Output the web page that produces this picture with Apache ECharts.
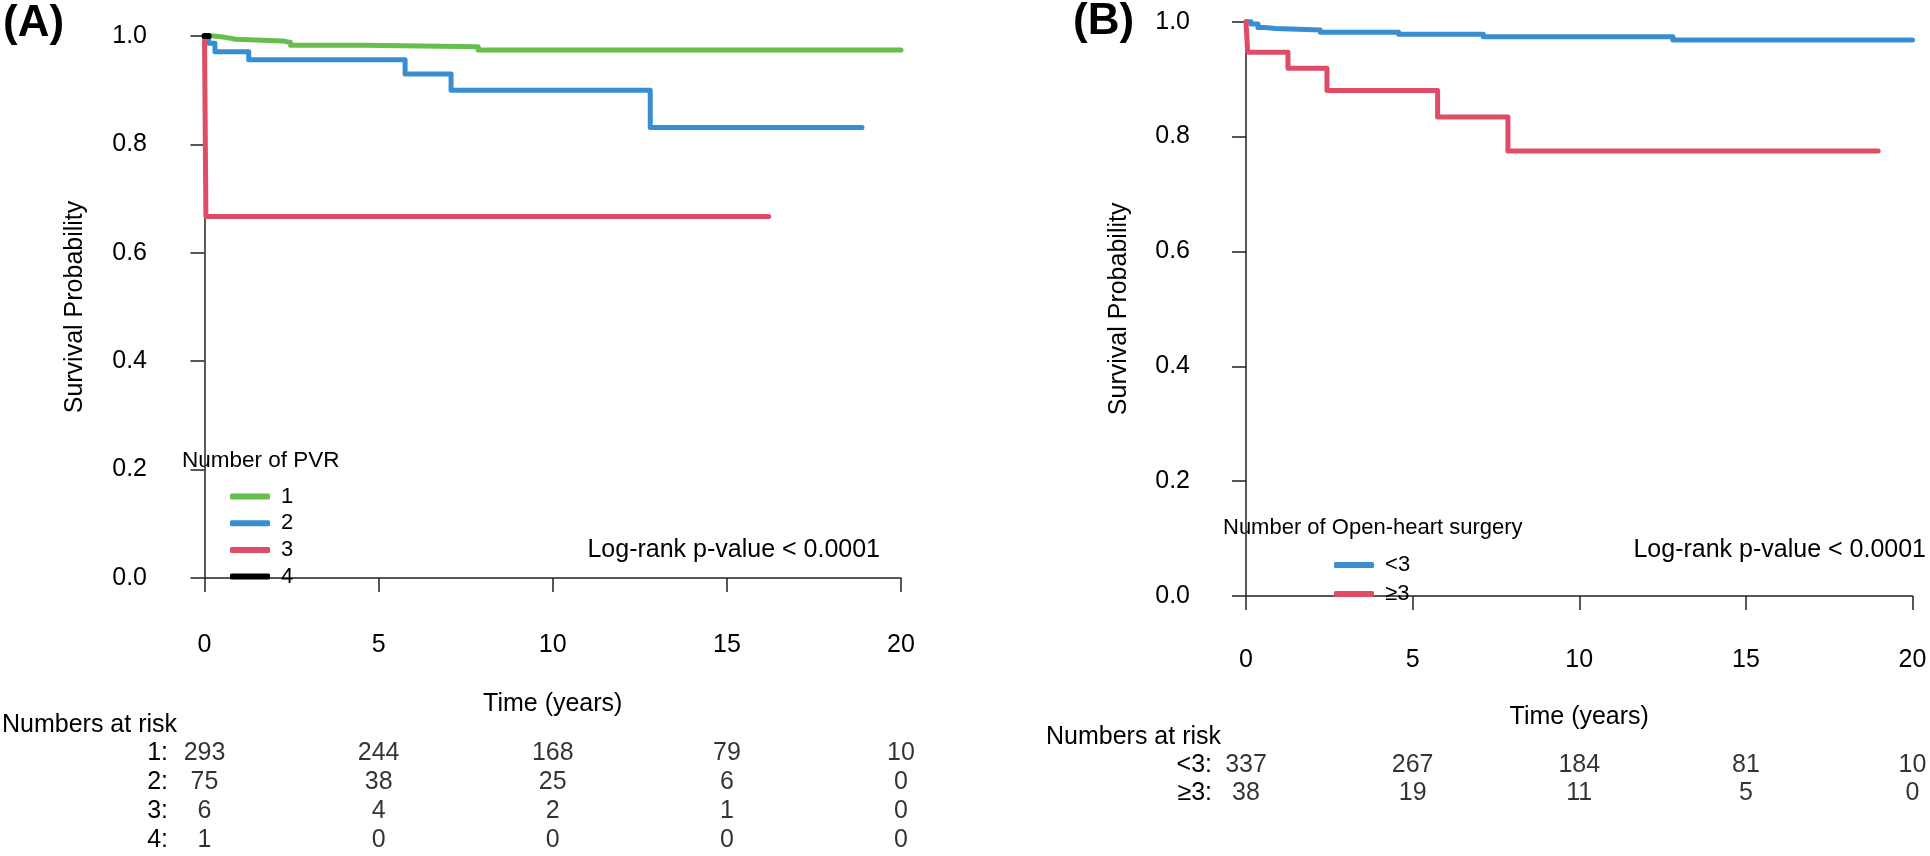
<!DOCTYPE html>
<html>
<head>
<meta charset="utf-8">
<script src="https://cdn.jsdelivr.net/npm/echarts@6/dist/echarts.min.js"></script>
<style>
  html, body { margin: 0; padding: 0; background: #fff; }
  #chart { width: 1930px; height: 856px; }
</style>
</head>
<body>
<div id="chart"></div>
<script>
// time axis ticks (years), shared by both panels and both risk tables
var timeTicks = [0, 5, 10, 15, 20];

// panel A: number of PVR, KM steps as [time, survival]
var pvr1 = [[0, 1], [0.25, 0.9975], [0.59, 0.994], [0.9, 0.991], [2.24, 0.988], [2.47, 0.983], [4.57, 0.98], [7.86, 0.974], [20, 0.974]];
var pvr2 = [[0, 1], [0.12, 0.9865], [0.3, 0.971], [1.27, 0.956], [5.76, 0.93], [7.08, 0.9], [12.8, 0.831], [18.88, 0.831]];
var pvr3 = [[0, 1], [0.02, 0.833], [0.04, 0.667], [16.2, 0.667]];
var pvr4 = [[0, 1], [0.12, 1]];

// panel B: number of open-heart surgery
var ohsLow = [[0, 1], [0.15, 0.996], [0.36, 0.99], [0.56, 0.988], [0.89, 0.9855], [2.23, 0.9815], [4.58, 0.978], [7.12, 0.974], [12.81, 0.968], [20, 0.968]];
var ohsHigh = [[0, 1], [0.05, 0.947], [1.26, 0.919], [2.43, 0.88], [5.75, 0.834], [7.86, 0.775], [18.97, 0.775]];

// numbers at risk
var riskRowsA = ['1:', '2:', '3:', '4:'];
var riskA = [
  [293, 244, 168, 79, 10],
  [75, 38, 25, 6, 0],
  [6, 4, 2, 1, 0],
  [1, 0, 0, 0, 0]
];
var riskRowsB = ['<3:', '\u22653:'];
var riskB = [
  [337, 267, 184, 81, 10],
  [38, 19, 11, 5, 0]
];

var FONT = '"Liberation Sans", Arial, sans-serif';
var FS = 25;
var cGreen = '#66BE4D', cBlue = '#388ED1', cRed = '#DE4C68', cBlack = '#000000';

function riskData(rows) {
  var res = [];
  for (var r = 0; r < rows.length; r++) {
    for (var i = 0; i < timeTicks.length; i++) {
      res.push([timeTicks[i], r, rows[r][i]]);
    }
  }
  return res;
}

function plotX(gridIndex, offset, margin, nameGap) {
  return {
    type: 'value', gridIndex: gridIndex, min: 0, max: 20, interval: 5,
    offset: offset, position: 'bottom',
    name: 'Time (years)', nameLocation: 'middle', nameGap: nameGap,
    nameTextStyle: { fontSize: FS, fontFamily: FONT, color: '#000' },
    axisLine: { show: true, lineStyle: { color: '#222', width: 1.5 } },
    axisTick: { show: true, length: 14, lineStyle: { color: '#222', width: 1.5 } },
    axisLabel: { fontSize: FS, fontFamily: FONT, color: '#000', margin: margin, showMinLabel: true, showMaxLabel: true },
    splitLine: { show: false }
  };
}
function plotY(gridIndex, offset, margin, nameGap) {
  return {
    type: 'value', gridIndex: gridIndex, min: 0, max: 1, interval: 0.2,
    offset: offset, position: 'left',
    name: 'Survival Probability', nameLocation: 'middle', nameGap: nameGap,
    nameTextStyle: { fontSize: FS, fontFamily: FONT, color: '#000' },
    axisLine: { show: true, lineStyle: { color: '#222', width: 1.5 } },
    axisTick: { show: true, length: 14, lineStyle: { color: '#222', width: 1.5 } },
    axisLabel: { fontSize: FS, fontFamily: FONT, color: '#000', margin: margin,
      formatter: function (v) { return v.toFixed(1); } },
    splitLine: { show: false }
  };
}
function tableX(gridIndex) {
  return { type: 'value', gridIndex: gridIndex, min: 0, max: 20, show: false };
}
function tableY(gridIndex, rows, margin) {
  return {
    type: 'category', gridIndex: gridIndex, data: rows, inverse: true,
    axisLine: { show: false }, axisTick: { show: false }, splitLine: { show: false },
    axisLabel: { fontSize: FS, fontFamily: FONT, color: '#000', margin: margin, interval: 0 }
  };
}
function kmLine(name, data, color, xi, width) {
  return {
    name: name, type: 'line', xAxisIndex: xi, yAxisIndex: xi, data: data,
    step: 'end', showSymbol: false, symbol: 'none', clip: false, color: color,
    lineStyle: { color: color, width: width || 5, cap: 'round', join: 'round' },
    emphasis: { disabled: true }
  };
}
function riskSeries(rows, xi) {
  return {
    type: 'scatter', xAxisIndex: xi, yAxisIndex: xi, data: riskData(rows),
    symbolSize: 1, itemStyle: { color: 'transparent' }, silent: true,
    label: { show: true, position: 'inside', fontSize: FS, fontFamily: FONT, color: '#000',
      formatter: function (p) { return String(p.value[2]); } }
  };
}
function txt(text, x, y, size, opts) {
  opts = opts || {};
  return {
    type: 'text', x: x, y: y, silent: true,
    style: { text: text, fill: '#000', fontSize: size, fontFamily: FONT,
      fontWeight: opts.bold ? 'bold' : 'normal', align: opts.align || 'left', verticalAlign: 'middle' }
  };
}
function legendAt(names, left, top, gap) {
  return {
    data: names, orient: 'vertical', left: left, top: top, padding: 0,
    itemWidth: 40, itemHeight: 6, itemGap: gap, icon: 'roundRect', selectedMode: false,
    formatter: function (n) { return ' ' + n; },
    textStyle: { fontSize: 22, fontFamily: FONT, color: '#000' }
  };
}

var chart = echarts.init(document.getElementById('chart'), null, { renderer: 'canvas' });

var option = {
  backgroundColor: '#fff',
  animation: false,
  grid: [
    { left: 204.5, top: 36, width: 696.5, height: 542, containLabel: false, outerBoundsMode: 'none' },
    { left: 1246, top: 21.7, width: 666.5, height: 574.3, containLabel: false, outerBoundsMode: 'none' },
    { left: 204.5, top: 738.5, width: 696.5, height: 116, containLabel: false, outerBoundsMode: 'none' },
    { left: 1246, top: 751, width: 666.5, height: 56, containLabel: false, outerBoundsMode: 'none' }
  ],
  xAxis: [plotX(0, 23, 32, 91), plotX(1, 22, 30, 87), tableX(2), tableX(3)],
  yAxis: [plotY(0, 28.5, 29, 88), plotY(1, 28, 28, 86), tableY(2, riskRowsA, 36.5), tableY(3, riskRowsB, 34)],
  legend: [
    legendAt(['1', '2', '3', '4'], 230, 485.5, 4.7),
    legendAt(['<3', '\u22653'], 1334, 554, 7)
  ],
  graphic: [
    txt('(A)', 3, 24, 44, { bold: true }),
    txt('(B)', 1073, 22, 44, { bold: true }),
    txt('Number of PVR', 182, 461, 22.5),
    txt('Number of Open-heart surgery', 1223, 528, 22),
    txt('Log-rank p-value < 0.0001', 880, 550, FS, { align: 'right' }),
    txt('Log-rank p-value < 0.0001', 1926, 550, FS, { align: 'right' }),
    txt('Numbers at risk', 2, 725, FS),
    txt('Numbers at risk', 1046, 737, FS)
  ],
  series: [
    kmLine('1', pvr1, cGreen, 0),
    kmLine('2', pvr2, cBlue, 0),
    kmLine('3', pvr3, cRed, 0),
    kmLine('4', pvr4, cBlack, 0, 6),
    kmLine('<3', ohsLow, cBlue, 1),
    kmLine('\u22653', ohsHigh, cRed, 1),
    riskSeries(riskA, 2),
    riskSeries(riskB, 3)
  ]
};

chart.setOption(option);
</script>
</body>
</html>
